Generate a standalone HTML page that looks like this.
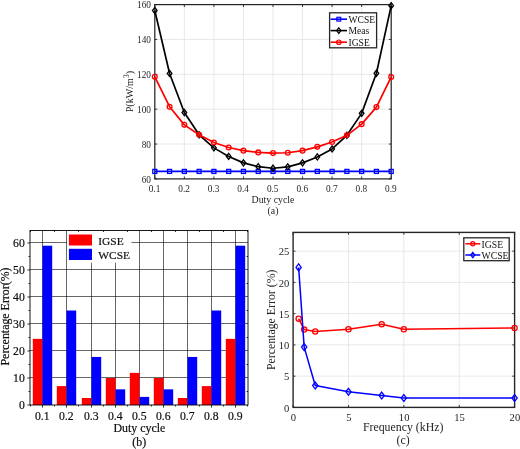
<!DOCTYPE html>
<html><head><meta charset="utf-8"><title>Figure</title>
<style>html,body{margin:0;padding:0;background:#fff;}svg{display:block}#b text{stroke:#000;stroke-width:.18px}</style></head>
<body>
<svg width="520" height="449" viewBox="0 0 520 449" font-family="Liberation Serif, Times New Roman, serif">
<rect width="520" height="449" fill="#fff"/>
<g id="a">
<line x1="184.35" y1="4.6" x2="184.35" y2="178.9" stroke="#e2e2e2" stroke-width="0.8"/>
<line x1="213.90" y1="4.6" x2="213.90" y2="178.9" stroke="#e2e2e2" stroke-width="0.8"/>
<line x1="243.45" y1="4.6" x2="243.45" y2="178.9" stroke="#e2e2e2" stroke-width="0.8"/>
<line x1="273.00" y1="4.6" x2="273.00" y2="178.9" stroke="#e2e2e2" stroke-width="0.8"/>
<line x1="302.55" y1="4.6" x2="302.55" y2="178.9" stroke="#e2e2e2" stroke-width="0.8"/>
<line x1="332.10" y1="4.6" x2="332.10" y2="178.9" stroke="#e2e2e2" stroke-width="0.8"/>
<line x1="361.65" y1="4.6" x2="361.65" y2="178.9" stroke="#e2e2e2" stroke-width="0.8"/>
<line x1="154.8" y1="144.04" x2="391.2" y2="144.04" stroke="#e2e2e2" stroke-width="0.8"/>
<line x1="154.8" y1="109.18" x2="391.2" y2="109.18" stroke="#e2e2e2" stroke-width="0.8"/>
<line x1="154.8" y1="74.32" x2="391.2" y2="74.32" stroke="#e2e2e2" stroke-width="0.8"/>
<line x1="154.8" y1="39.46" x2="391.2" y2="39.46" stroke="#e2e2e2" stroke-width="0.8"/>
<line x1="154.80" y1="178.9" x2="154.80" y2="176.5" stroke="#262626" stroke-width="0.9"/>
<line x1="154.80" y1="4.6" x2="154.80" y2="7.0" stroke="#262626" stroke-width="0.9"/>
<text x="154.50" y="192.0" font-size="9.3" text-anchor="middle" fill="#262626">0.1</text>
<line x1="184.35" y1="178.9" x2="184.35" y2="176.5" stroke="#262626" stroke-width="0.9"/>
<line x1="184.35" y1="4.6" x2="184.35" y2="7.0" stroke="#262626" stroke-width="0.9"/>
<text x="184.05" y="192.0" font-size="9.3" text-anchor="middle" fill="#262626">0.2</text>
<line x1="213.90" y1="178.9" x2="213.90" y2="176.5" stroke="#262626" stroke-width="0.9"/>
<line x1="213.90" y1="4.6" x2="213.90" y2="7.0" stroke="#262626" stroke-width="0.9"/>
<text x="213.60" y="192.0" font-size="9.3" text-anchor="middle" fill="#262626">0.3</text>
<line x1="243.45" y1="178.9" x2="243.45" y2="176.5" stroke="#262626" stroke-width="0.9"/>
<line x1="243.45" y1="4.6" x2="243.45" y2="7.0" stroke="#262626" stroke-width="0.9"/>
<text x="243.15" y="192.0" font-size="9.3" text-anchor="middle" fill="#262626">0.4</text>
<line x1="273.00" y1="178.9" x2="273.00" y2="176.5" stroke="#262626" stroke-width="0.9"/>
<line x1="273.00" y1="4.6" x2="273.00" y2="7.0" stroke="#262626" stroke-width="0.9"/>
<text x="272.70" y="192.0" font-size="9.3" text-anchor="middle" fill="#262626">0.5</text>
<line x1="302.55" y1="178.9" x2="302.55" y2="176.5" stroke="#262626" stroke-width="0.9"/>
<line x1="302.55" y1="4.6" x2="302.55" y2="7.0" stroke="#262626" stroke-width="0.9"/>
<text x="302.25" y="192.0" font-size="9.3" text-anchor="middle" fill="#262626">0.6</text>
<line x1="332.10" y1="178.9" x2="332.10" y2="176.5" stroke="#262626" stroke-width="0.9"/>
<line x1="332.10" y1="4.6" x2="332.10" y2="7.0" stroke="#262626" stroke-width="0.9"/>
<text x="331.80" y="192.0" font-size="9.3" text-anchor="middle" fill="#262626">0.7</text>
<line x1="361.65" y1="178.9" x2="361.65" y2="176.5" stroke="#262626" stroke-width="0.9"/>
<line x1="361.65" y1="4.6" x2="361.65" y2="7.0" stroke="#262626" stroke-width="0.9"/>
<text x="361.35" y="192.0" font-size="9.3" text-anchor="middle" fill="#262626">0.8</text>
<line x1="391.20" y1="178.9" x2="391.20" y2="176.5" stroke="#262626" stroke-width="0.9"/>
<line x1="391.20" y1="4.6" x2="391.20" y2="7.0" stroke="#262626" stroke-width="0.9"/>
<text x="390.90" y="192.0" font-size="9.3" text-anchor="middle" fill="#262626">0.9</text>
<line x1="154.8" y1="178.90" x2="157.20000000000002" y2="178.90" stroke="#262626" stroke-width="0.9"/>
<line x1="391.2" y1="178.90" x2="388.8" y2="178.90" stroke="#262626" stroke-width="0.9"/>
<text x="151.0" y="182.70" font-size="9.3" text-anchor="end" fill="#262626">60</text>
<line x1="154.8" y1="144.04" x2="157.20000000000002" y2="144.04" stroke="#262626" stroke-width="0.9"/>
<line x1="391.2" y1="144.04" x2="388.8" y2="144.04" stroke="#262626" stroke-width="0.9"/>
<text x="151.0" y="147.84" font-size="9.3" text-anchor="end" fill="#262626">80</text>
<line x1="154.8" y1="109.18" x2="157.20000000000002" y2="109.18" stroke="#262626" stroke-width="0.9"/>
<line x1="391.2" y1="109.18" x2="388.8" y2="109.18" stroke="#262626" stroke-width="0.9"/>
<text x="151.0" y="112.98" font-size="9.3" text-anchor="end" fill="#262626">100</text>
<line x1="154.8" y1="74.32" x2="157.20000000000002" y2="74.32" stroke="#262626" stroke-width="0.9"/>
<line x1="391.2" y1="74.32" x2="388.8" y2="74.32" stroke="#262626" stroke-width="0.9"/>
<text x="151.0" y="78.12" font-size="9.3" text-anchor="end" fill="#262626">120</text>
<line x1="154.8" y1="39.46" x2="157.20000000000002" y2="39.46" stroke="#262626" stroke-width="0.9"/>
<line x1="391.2" y1="39.46" x2="388.8" y2="39.46" stroke="#262626" stroke-width="0.9"/>
<text x="151.0" y="43.26" font-size="9.3" text-anchor="end" fill="#262626">140</text>
<line x1="154.8" y1="4.60" x2="157.20000000000002" y2="4.60" stroke="#262626" stroke-width="0.9"/>
<line x1="391.2" y1="4.60" x2="388.8" y2="4.60" stroke="#262626" stroke-width="0.9"/>
<text x="151.0" y="8.40" font-size="9.3" text-anchor="end" fill="#262626">160</text>
<rect x="154.8" y="4.6" width="236.40" height="174.30" fill="none" stroke="#262626" stroke-width="1.25"/>
<polyline points="154.80,171.41 169.58,171.41 184.35,171.41 199.12,171.41 213.90,171.41 228.68,171.41 243.45,171.41 258.23,171.41 273.00,171.41 287.77,171.41 302.55,171.41 317.32,171.41 332.10,171.41 346.88,171.41 361.65,171.41 376.42,171.41 391.20,171.41" fill="none" stroke="#0000ff" stroke-width="1.7" stroke-linejoin="round"/>
<rect x="152.80" y="169.41" width="4.0" height="4.0" fill="none" stroke="#0000ff" stroke-width="1.3"/>
<rect x="167.58" y="169.41" width="4.0" height="4.0" fill="none" stroke="#0000ff" stroke-width="1.3"/>
<rect x="182.35" y="169.41" width="4.0" height="4.0" fill="none" stroke="#0000ff" stroke-width="1.3"/>
<rect x="197.12" y="169.41" width="4.0" height="4.0" fill="none" stroke="#0000ff" stroke-width="1.3"/>
<rect x="211.90" y="169.41" width="4.0" height="4.0" fill="none" stroke="#0000ff" stroke-width="1.3"/>
<rect x="226.68" y="169.41" width="4.0" height="4.0" fill="none" stroke="#0000ff" stroke-width="1.3"/>
<rect x="241.45" y="169.41" width="4.0" height="4.0" fill="none" stroke="#0000ff" stroke-width="1.3"/>
<rect x="256.23" y="169.41" width="4.0" height="4.0" fill="none" stroke="#0000ff" stroke-width="1.3"/>
<rect x="271.00" y="169.41" width="4.0" height="4.0" fill="none" stroke="#0000ff" stroke-width="1.3"/>
<rect x="285.77" y="169.41" width="4.0" height="4.0" fill="none" stroke="#0000ff" stroke-width="1.3"/>
<rect x="300.55" y="169.41" width="4.0" height="4.0" fill="none" stroke="#0000ff" stroke-width="1.3"/>
<rect x="315.32" y="169.41" width="4.0" height="4.0" fill="none" stroke="#0000ff" stroke-width="1.3"/>
<rect x="330.10" y="169.41" width="4.0" height="4.0" fill="none" stroke="#0000ff" stroke-width="1.3"/>
<rect x="344.88" y="169.41" width="4.0" height="4.0" fill="none" stroke="#0000ff" stroke-width="1.3"/>
<rect x="359.65" y="169.41" width="4.0" height="4.0" fill="none" stroke="#0000ff" stroke-width="1.3"/>
<rect x="374.42" y="169.41" width="4.0" height="4.0" fill="none" stroke="#0000ff" stroke-width="1.3"/>
<rect x="389.20" y="169.41" width="4.0" height="4.0" fill="none" stroke="#0000ff" stroke-width="1.3"/>
<polyline points="154.80,10.53 169.58,73.45 184.35,112.49 199.12,134.80 213.90,147.87 228.68,156.42 243.45,162.86 258.23,166.70 273.00,168.27 287.77,166.87 302.55,162.86 317.32,156.94 332.10,148.92 346.88,135.32 361.65,113.36 376.42,73.27 391.20,5.65" fill="none" stroke="#000000" stroke-width="1.7" stroke-linejoin="round"/>
<path d="M154.80 7.45L157.14 10.53L154.80 13.61L152.46 10.53Z" fill="none" stroke="#000000" stroke-width="1.3"/>
<path d="M169.58 70.37L171.91 73.45L169.58 76.53L167.24 73.45Z" fill="none" stroke="#000000" stroke-width="1.3"/>
<path d="M184.35 109.41L186.69 112.49L184.35 115.57L182.01 112.49Z" fill="none" stroke="#000000" stroke-width="1.3"/>
<path d="M199.12 131.72L201.46 134.80L199.12 137.88L196.79 134.80Z" fill="none" stroke="#000000" stroke-width="1.3"/>
<path d="M213.90 144.79L216.24 147.87L213.90 150.95L211.56 147.87Z" fill="none" stroke="#000000" stroke-width="1.3"/>
<path d="M228.68 153.34L231.01 156.42L228.68 159.50L226.34 156.42Z" fill="none" stroke="#000000" stroke-width="1.3"/>
<path d="M243.45 159.78L245.79 162.86L243.45 165.94L241.11 162.86Z" fill="none" stroke="#000000" stroke-width="1.3"/>
<path d="M258.23 163.62L260.56 166.70L258.23 169.78L255.89 166.70Z" fill="none" stroke="#000000" stroke-width="1.3"/>
<path d="M273.00 165.19L275.34 168.27L273.00 171.35L270.66 168.27Z" fill="none" stroke="#000000" stroke-width="1.3"/>
<path d="M287.77 163.79L290.11 166.87L287.77 169.95L285.44 166.87Z" fill="none" stroke="#000000" stroke-width="1.3"/>
<path d="M302.55 159.78L304.89 162.86L302.55 165.94L300.21 162.86Z" fill="none" stroke="#000000" stroke-width="1.3"/>
<path d="M317.32 153.86L319.66 156.94L317.32 160.02L314.99 156.94Z" fill="none" stroke="#000000" stroke-width="1.3"/>
<path d="M332.10 145.84L334.44 148.92L332.10 152.00L329.76 148.92Z" fill="none" stroke="#000000" stroke-width="1.3"/>
<path d="M346.88 132.24L349.21 135.32L346.88 138.41L344.54 135.32Z" fill="none" stroke="#000000" stroke-width="1.3"/>
<path d="M361.65 110.28L363.99 113.36L361.65 116.44L359.31 113.36Z" fill="none" stroke="#000000" stroke-width="1.3"/>
<path d="M376.42 70.19L378.76 73.27L376.42 76.35L374.09 73.27Z" fill="none" stroke="#000000" stroke-width="1.3"/>
<path d="M391.20 2.57L393.54 5.65L391.20 8.73L388.86 5.65Z" fill="none" stroke="#000000" stroke-width="1.3"/>
<polyline points="154.80,76.76 169.58,106.74 184.35,124.87 199.12,134.80 213.90,142.47 228.68,147.53 243.45,150.66 258.23,152.41 273.00,153.10 287.77,152.75 302.55,150.66 317.32,146.83 332.10,141.95 346.88,135.32 361.65,124.17 376.42,107.09 391.20,76.93" fill="none" stroke="#ff0000" stroke-width="1.7" stroke-linejoin="round"/>
<circle cx="154.80" cy="76.76" r="2.4" fill="none" stroke="#ff0000" stroke-width="1.3"/>
<circle cx="169.58" cy="106.74" r="2.4" fill="none" stroke="#ff0000" stroke-width="1.3"/>
<circle cx="184.35" cy="124.87" r="2.4" fill="none" stroke="#ff0000" stroke-width="1.3"/>
<circle cx="199.12" cy="134.80" r="2.4" fill="none" stroke="#ff0000" stroke-width="1.3"/>
<circle cx="213.90" cy="142.47" r="2.4" fill="none" stroke="#ff0000" stroke-width="1.3"/>
<circle cx="228.68" cy="147.53" r="2.4" fill="none" stroke="#ff0000" stroke-width="1.3"/>
<circle cx="243.45" cy="150.66" r="2.4" fill="none" stroke="#ff0000" stroke-width="1.3"/>
<circle cx="258.23" cy="152.41" r="2.4" fill="none" stroke="#ff0000" stroke-width="1.3"/>
<circle cx="273.00" cy="153.10" r="2.4" fill="none" stroke="#ff0000" stroke-width="1.3"/>
<circle cx="287.77" cy="152.75" r="2.4" fill="none" stroke="#ff0000" stroke-width="1.3"/>
<circle cx="302.55" cy="150.66" r="2.4" fill="none" stroke="#ff0000" stroke-width="1.3"/>
<circle cx="317.32" cy="146.83" r="2.4" fill="none" stroke="#ff0000" stroke-width="1.3"/>
<circle cx="332.10" cy="141.95" r="2.4" fill="none" stroke="#ff0000" stroke-width="1.3"/>
<circle cx="346.88" cy="135.32" r="2.4" fill="none" stroke="#ff0000" stroke-width="1.3"/>
<circle cx="361.65" cy="124.17" r="2.4" fill="none" stroke="#ff0000" stroke-width="1.3"/>
<circle cx="376.42" cy="107.09" r="2.4" fill="none" stroke="#ff0000" stroke-width="1.3"/>
<circle cx="391.20" cy="76.93" r="2.4" fill="none" stroke="#ff0000" stroke-width="1.3"/>
<rect x="329.6" y="12.8" width="47" height="35" fill="#fff" stroke="#262626" stroke-width="1.3"/>
<line x1="330.6" y1="19.2" x2="347" y2="19.2" stroke="#0000ff" stroke-width="1.6"/>
<rect x="336.90" y="17.30" width="3.8" height="3.8" fill="none" stroke="#0000ff" stroke-width="1.2"/>
<text x="348.6" y="23.00" font-size="9.5" fill="#111">WCSE</text>
<line x1="330.6" y1="30.6" x2="347" y2="30.6" stroke="#000" stroke-width="1.6"/>
<path d="M338.80 27.80L340.93 30.60L338.80 33.40L336.68 30.60Z" fill="none" stroke="#000" stroke-width="1.2"/>
<text x="348.6" y="34.40" font-size="9.5" fill="#111">Meas</text>
<line x1="330.6" y1="42.2" x2="347" y2="42.2" stroke="#ff0000" stroke-width="1.6"/>
<circle cx="338.80" cy="42.20" r="2.2" fill="none" stroke="#ff0000" stroke-width="1.2"/>
<text x="348.6" y="46.00" font-size="9.5" fill="#111">IGSE</text>
<text x="273" y="202.7" font-size="9.85" text-anchor="middle" fill="#262626">Duty cycle</text>
<text x="273" y="213.5" font-size="9.85" text-anchor="middle" fill="#262626">(a)</text>
<text transform="translate(133.0,91.6) rotate(-90)" font-size="10.1" text-anchor="middle" fill="#262626">P(kW/m<tspan dy="-3.8" font-size="7.6">3</tspan><tspan dy="3.8" font-size="10.1">)</tspan></text>
</g>
<g id="b" stroke-linecap="butt">
<line x1="42.50" y1="230.5" x2="42.50" y2="405.0" stroke="#000" stroke-width="0.6"/>
<line x1="66.50" y1="230.5" x2="66.50" y2="405.0" stroke="#000" stroke-width="0.6"/>
<line x1="91.50" y1="230.5" x2="91.50" y2="405.0" stroke="#000" stroke-width="0.6"/>
<line x1="115.50" y1="230.5" x2="115.50" y2="405.0" stroke="#000" stroke-width="0.6"/>
<line x1="139.50" y1="230.5" x2="139.50" y2="405.0" stroke="#000" stroke-width="0.6"/>
<line x1="163.50" y1="230.5" x2="163.50" y2="405.0" stroke="#000" stroke-width="0.6"/>
<line x1="187.50" y1="230.5" x2="187.50" y2="405.0" stroke="#000" stroke-width="0.6"/>
<line x1="211.50" y1="230.5" x2="211.50" y2="405.0" stroke="#000" stroke-width="0.6"/>
<line x1="235.50" y1="230.5" x2="235.50" y2="405.0" stroke="#000" stroke-width="0.6"/>
<line x1="30.0" y1="377.50" x2="248.0" y2="377.50" stroke="#000" stroke-width="0.6"/>
<line x1="30.0" y1="350.50" x2="248.0" y2="350.50" stroke="#000" stroke-width="0.6"/>
<line x1="30.0" y1="323.50" x2="248.0" y2="323.50" stroke="#000" stroke-width="0.6"/>
<line x1="30.0" y1="296.50" x2="248.0" y2="296.50" stroke="#000" stroke-width="0.6"/>
<line x1="30.0" y1="269.50" x2="248.0" y2="269.50" stroke="#000" stroke-width="0.6"/>
<line x1="30.0" y1="242.50" x2="248.0" y2="242.50" stroke="#000" stroke-width="0.6"/>
<rect x="32.80" y="338.85" width="9.7" height="66.15" fill="#ff0000"/>
<rect x="42.50" y="245.70" width="9.7" height="159.30" fill="#0000ff"/>
<rect x="56.80" y="386.10" width="9.7" height="18.90" fill="#ff0000"/>
<rect x="66.50" y="310.50" width="9.7" height="94.50" fill="#0000ff"/>
<rect x="81.80" y="397.98" width="9.7" height="7.02" fill="#ff0000"/>
<rect x="91.50" y="356.94" width="9.7" height="48.06" fill="#0000ff"/>
<rect x="105.80" y="378.00" width="9.7" height="27.00" fill="#ff0000"/>
<rect x="115.50" y="389.34" width="9.7" height="15.66" fill="#0000ff"/>
<rect x="129.80" y="372.87" width="9.7" height="32.13" fill="#ff0000"/>
<rect x="139.50" y="396.90" width="9.7" height="8.10" fill="#0000ff"/>
<rect x="153.80" y="378.00" width="9.7" height="27.00" fill="#ff0000"/>
<rect x="163.50" y="389.34" width="9.7" height="15.66" fill="#0000ff"/>
<rect x="177.80" y="397.98" width="9.7" height="7.02" fill="#ff0000"/>
<rect x="187.50" y="356.94" width="9.7" height="48.06" fill="#0000ff"/>
<rect x="201.80" y="386.10" width="9.7" height="18.90" fill="#ff0000"/>
<rect x="211.50" y="310.50" width="9.7" height="94.50" fill="#0000ff"/>
<rect x="225.80" y="338.85" width="9.7" height="66.15" fill="#ff0000"/>
<rect x="235.50" y="245.70" width="9.7" height="159.30" fill="#0000ff"/>
<rect x="67" y="231" width="64.5" height="31.7" fill="#fff"/>
<rect x="68.9" y="234.5" width="23.1" height="11" fill="#ff0000"/>
<rect x="68.9" y="248.8" width="23.1" height="11.2" fill="#0000ff"/>
<text x="98.3" y="244.6" font-size="11.4" fill="#111">IGSE</text>
<text x="98.3" y="258.6" font-size="11.4" fill="#111">WCSE</text>
<rect x="30.0" y="230.5" width="218.00" height="174.50" fill="none" stroke="#000" stroke-width="0.9"/>
<line x1="42.50" y1="405.0" x2="42.50" y2="407.6" stroke="#000" stroke-width="0.8"/>
<text x="42.20" y="420.1" font-size="11.7" text-anchor="middle" fill="#111">0.1</text>
<line x1="66.50" y1="405.0" x2="66.50" y2="407.6" stroke="#000" stroke-width="0.8"/>
<text x="66.20" y="420.1" font-size="11.7" text-anchor="middle" fill="#111">0.2</text>
<line x1="91.50" y1="405.0" x2="91.50" y2="407.6" stroke="#000" stroke-width="0.8"/>
<text x="91.20" y="420.1" font-size="11.7" text-anchor="middle" fill="#111">0.3</text>
<line x1="115.50" y1="405.0" x2="115.50" y2="407.6" stroke="#000" stroke-width="0.8"/>
<text x="115.20" y="420.1" font-size="11.7" text-anchor="middle" fill="#111">0.4</text>
<line x1="139.50" y1="405.0" x2="139.50" y2="407.6" stroke="#000" stroke-width="0.8"/>
<text x="139.20" y="420.1" font-size="11.7" text-anchor="middle" fill="#111">0.5</text>
<line x1="163.50" y1="405.0" x2="163.50" y2="407.6" stroke="#000" stroke-width="0.8"/>
<text x="163.20" y="420.1" font-size="11.7" text-anchor="middle" fill="#111">0.6</text>
<line x1="187.50" y1="405.0" x2="187.50" y2="407.6" stroke="#000" stroke-width="0.8"/>
<text x="187.20" y="420.1" font-size="11.7" text-anchor="middle" fill="#111">0.7</text>
<line x1="211.50" y1="405.0" x2="211.50" y2="407.6" stroke="#000" stroke-width="0.8"/>
<text x="211.20" y="420.1" font-size="11.7" text-anchor="middle" fill="#111">0.8</text>
<line x1="235.50" y1="405.0" x2="235.50" y2="407.6" stroke="#000" stroke-width="0.8"/>
<text x="235.20" y="420.1" font-size="11.7" text-anchor="middle" fill="#111">0.9</text>
<line x1="30.50" y1="405.0" x2="30.50" y2="406.5" stroke="#000" stroke-width="0.8"/>
<line x1="30.50" y1="230.5" x2="30.50" y2="232.0" stroke="#000" stroke-width="0.8"/>
<line x1="54.50" y1="405.0" x2="54.50" y2="406.5" stroke="#000" stroke-width="0.8"/>
<line x1="54.50" y1="230.5" x2="54.50" y2="232.0" stroke="#000" stroke-width="0.8"/>
<line x1="78.50" y1="405.0" x2="78.50" y2="406.5" stroke="#000" stroke-width="0.8"/>
<line x1="78.50" y1="230.5" x2="78.50" y2="232.0" stroke="#000" stroke-width="0.8"/>
<line x1="103.50" y1="405.0" x2="103.50" y2="406.5" stroke="#000" stroke-width="0.8"/>
<line x1="103.50" y1="230.5" x2="103.50" y2="232.0" stroke="#000" stroke-width="0.8"/>
<line x1="127.50" y1="405.0" x2="127.50" y2="406.5" stroke="#000" stroke-width="0.8"/>
<line x1="127.50" y1="230.5" x2="127.50" y2="232.0" stroke="#000" stroke-width="0.8"/>
<line x1="151.50" y1="405.0" x2="151.50" y2="406.5" stroke="#000" stroke-width="0.8"/>
<line x1="151.50" y1="230.5" x2="151.50" y2="232.0" stroke="#000" stroke-width="0.8"/>
<line x1="175.50" y1="405.0" x2="175.50" y2="406.5" stroke="#000" stroke-width="0.8"/>
<line x1="175.50" y1="230.5" x2="175.50" y2="232.0" stroke="#000" stroke-width="0.8"/>
<line x1="199.50" y1="405.0" x2="199.50" y2="406.5" stroke="#000" stroke-width="0.8"/>
<line x1="199.50" y1="230.5" x2="199.50" y2="232.0" stroke="#000" stroke-width="0.8"/>
<line x1="223.50" y1="405.0" x2="223.50" y2="406.5" stroke="#000" stroke-width="0.8"/>
<line x1="223.50" y1="230.5" x2="223.50" y2="232.0" stroke="#000" stroke-width="0.8"/>
<line x1="247.50" y1="405.0" x2="247.50" y2="406.5" stroke="#000" stroke-width="0.8"/>
<line x1="247.50" y1="230.5" x2="247.50" y2="232.0" stroke="#000" stroke-width="0.8"/>
<line x1="30.0" y1="405.00" x2="27.4" y2="405.00" stroke="#000" stroke-width="0.8"/>
<text x="24.8" y="409.10" font-size="11.7" text-anchor="end" fill="#111">0</text>
<line x1="30.0" y1="378.00" x2="27.4" y2="378.00" stroke="#000" stroke-width="0.8"/>
<text x="24.8" y="382.10" font-size="11.7" text-anchor="end" fill="#111">10</text>
<line x1="30.0" y1="351.00" x2="27.4" y2="351.00" stroke="#000" stroke-width="0.8"/>
<text x="24.8" y="355.10" font-size="11.7" text-anchor="end" fill="#111">20</text>
<line x1="30.0" y1="324.00" x2="27.4" y2="324.00" stroke="#000" stroke-width="0.8"/>
<text x="24.8" y="328.10" font-size="11.7" text-anchor="end" fill="#111">30</text>
<line x1="30.0" y1="297.00" x2="27.4" y2="297.00" stroke="#000" stroke-width="0.8"/>
<text x="24.8" y="301.10" font-size="11.7" text-anchor="end" fill="#111">40</text>
<line x1="30.0" y1="270.00" x2="27.4" y2="270.00" stroke="#000" stroke-width="0.8"/>
<text x="24.8" y="274.10" font-size="11.7" text-anchor="end" fill="#111">50</text>
<line x1="30.0" y1="243.00" x2="27.4" y2="243.00" stroke="#000" stroke-width="0.8"/>
<text x="24.8" y="247.10" font-size="11.7" text-anchor="end" fill="#111">60</text>
<line x1="30.0" y1="391.50" x2="28.5" y2="391.50" stroke="#000" stroke-width="0.8"/>
<line x1="248.0" y1="391.50" x2="246.5" y2="391.50" stroke="#000" stroke-width="0.8"/>
<line x1="30.0" y1="364.50" x2="28.5" y2="364.50" stroke="#000" stroke-width="0.8"/>
<line x1="248.0" y1="364.50" x2="246.5" y2="364.50" stroke="#000" stroke-width="0.8"/>
<line x1="30.0" y1="337.50" x2="28.5" y2="337.50" stroke="#000" stroke-width="0.8"/>
<line x1="248.0" y1="337.50" x2="246.5" y2="337.50" stroke="#000" stroke-width="0.8"/>
<line x1="30.0" y1="310.50" x2="28.5" y2="310.50" stroke="#000" stroke-width="0.8"/>
<line x1="248.0" y1="310.50" x2="246.5" y2="310.50" stroke="#000" stroke-width="0.8"/>
<line x1="30.0" y1="283.50" x2="28.5" y2="283.50" stroke="#000" stroke-width="0.8"/>
<line x1="248.0" y1="283.50" x2="246.5" y2="283.50" stroke="#000" stroke-width="0.8"/>
<line x1="30.0" y1="256.50" x2="28.5" y2="256.50" stroke="#000" stroke-width="0.8"/>
<line x1="248.0" y1="256.50" x2="246.5" y2="256.50" stroke="#000" stroke-width="0.8"/>
<text x="139.4" y="431.5" font-size="11.9" text-anchor="middle" fill="#111">Duty cycle</text>
<text x="139.3" y="445.6" font-size="11.9" text-anchor="middle" fill="#111">(b)</text>
<text transform="translate(8.7,316.5) rotate(-90)" font-size="11.9" text-anchor="middle" fill="#111">Percentage Error(%)</text>
</g>
<g id="c">
<line x1="348.48" y1="232.4" x2="348.48" y2="407.4" stroke="#e2e2e2" stroke-width="0.8"/>
<line x1="403.85" y1="232.4" x2="403.85" y2="407.4" stroke="#e2e2e2" stroke-width="0.8"/>
<line x1="459.23" y1="232.4" x2="459.23" y2="407.4" stroke="#e2e2e2" stroke-width="0.8"/>
<line x1="293.1" y1="376.15" x2="514.6" y2="376.15" stroke="#e2e2e2" stroke-width="0.8"/>
<line x1="293.1" y1="344.90" x2="514.6" y2="344.90" stroke="#e2e2e2" stroke-width="0.8"/>
<line x1="293.1" y1="313.65" x2="514.6" y2="313.65" stroke="#e2e2e2" stroke-width="0.8"/>
<line x1="293.1" y1="282.40" x2="514.6" y2="282.40" stroke="#e2e2e2" stroke-width="0.8"/>
<line x1="293.1" y1="251.15" x2="514.6" y2="251.15" stroke="#e2e2e2" stroke-width="0.8"/>
<line x1="293.10" y1="407.4" x2="293.10" y2="405.0" stroke="#262626" stroke-width="0.9"/>
<line x1="293.10" y1="232.4" x2="293.10" y2="234.8" stroke="#262626" stroke-width="0.9"/>
<text x="293.40" y="420.8" font-size="10.6" text-anchor="middle" fill="#262626">0</text>
<line x1="348.48" y1="407.4" x2="348.48" y2="405.0" stroke="#262626" stroke-width="0.9"/>
<line x1="348.48" y1="232.4" x2="348.48" y2="234.8" stroke="#262626" stroke-width="0.9"/>
<text x="348.78" y="420.8" font-size="10.6" text-anchor="middle" fill="#262626">5</text>
<line x1="403.85" y1="407.4" x2="403.85" y2="405.0" stroke="#262626" stroke-width="0.9"/>
<line x1="403.85" y1="232.4" x2="403.85" y2="234.8" stroke="#262626" stroke-width="0.9"/>
<text x="404.15" y="420.8" font-size="10.6" text-anchor="middle" fill="#262626">10</text>
<line x1="459.23" y1="407.4" x2="459.23" y2="405.0" stroke="#262626" stroke-width="0.9"/>
<line x1="459.23" y1="232.4" x2="459.23" y2="234.8" stroke="#262626" stroke-width="0.9"/>
<text x="459.53" y="420.8" font-size="10.6" text-anchor="middle" fill="#262626">15</text>
<line x1="514.60" y1="407.4" x2="514.60" y2="405.0" stroke="#262626" stroke-width="0.9"/>
<line x1="514.60" y1="232.4" x2="514.60" y2="234.8" stroke="#262626" stroke-width="0.9"/>
<text x="514.90" y="420.8" font-size="10.6" text-anchor="middle" fill="#262626">20</text>
<line x1="293.1" y1="407.40" x2="295.5" y2="407.40" stroke="#262626" stroke-width="0.9"/>
<line x1="514.6" y1="407.40" x2="512.2" y2="407.40" stroke="#262626" stroke-width="0.9"/>
<text x="289.3" y="411.50" font-size="10.6" text-anchor="end" fill="#262626">0</text>
<line x1="293.1" y1="376.15" x2="295.5" y2="376.15" stroke="#262626" stroke-width="0.9"/>
<line x1="514.6" y1="376.15" x2="512.2" y2="376.15" stroke="#262626" stroke-width="0.9"/>
<text x="289.3" y="380.25" font-size="10.6" text-anchor="end" fill="#262626">5</text>
<line x1="293.1" y1="344.90" x2="295.5" y2="344.90" stroke="#262626" stroke-width="0.9"/>
<line x1="514.6" y1="344.90" x2="512.2" y2="344.90" stroke="#262626" stroke-width="0.9"/>
<text x="289.3" y="349.00" font-size="10.6" text-anchor="end" fill="#262626">10</text>
<line x1="293.1" y1="313.65" x2="295.5" y2="313.65" stroke="#262626" stroke-width="0.9"/>
<line x1="514.6" y1="313.65" x2="512.2" y2="313.65" stroke="#262626" stroke-width="0.9"/>
<text x="289.3" y="317.75" font-size="10.6" text-anchor="end" fill="#262626">15</text>
<line x1="293.1" y1="282.40" x2="295.5" y2="282.40" stroke="#262626" stroke-width="0.9"/>
<line x1="514.6" y1="282.40" x2="512.2" y2="282.40" stroke="#262626" stroke-width="0.9"/>
<text x="289.3" y="286.50" font-size="10.6" text-anchor="end" fill="#262626">20</text>
<line x1="293.1" y1="251.15" x2="295.5" y2="251.15" stroke="#262626" stroke-width="0.9"/>
<line x1="514.6" y1="251.15" x2="512.2" y2="251.15" stroke="#262626" stroke-width="0.9"/>
<text x="289.3" y="255.25" font-size="10.6" text-anchor="end" fill="#262626">25</text>
<rect x="293.1" y="232.4" width="221.50" height="175.00" fill="none" stroke="#262626" stroke-width="1.4"/>
<polyline points="298.64,318.65 304.18,329.59 315.25,331.46 348.48,329.27 381.70,324.27 403.85,329.27 514.60,328.02" fill="none" stroke="#ff0000" stroke-width="1.5" stroke-linejoin="round"/>
<circle cx="298.64" cy="318.65" r="2.6" fill="none" stroke="#ff0000" stroke-width="1.3"/>
<circle cx="304.18" cy="329.59" r="2.6" fill="none" stroke="#ff0000" stroke-width="1.3"/>
<circle cx="315.25" cy="331.46" r="2.6" fill="none" stroke="#ff0000" stroke-width="1.3"/>
<circle cx="348.48" cy="329.27" r="2.6" fill="none" stroke="#ff0000" stroke-width="1.3"/>
<circle cx="381.70" cy="324.27" r="2.6" fill="none" stroke="#ff0000" stroke-width="1.3"/>
<circle cx="403.85" cy="329.27" r="2.6" fill="none" stroke="#ff0000" stroke-width="1.3"/>
<circle cx="514.60" cy="328.02" r="2.6" fill="none" stroke="#ff0000" stroke-width="1.3"/>
<polyline points="298.64,267.40 304.18,347.09 315.25,385.52 348.48,391.77 381.70,395.52 403.85,398.02 514.60,398.02" fill="none" stroke="#0000ff" stroke-width="1.5" stroke-linejoin="round"/>
<path d="M298.64 263.93L301.27 267.40L298.64 270.87L296.00 267.40Z" fill="none" stroke="#0000ff" stroke-width="1.3"/>
<path d="M304.18 343.62L306.81 347.09L304.18 350.56L301.54 347.09Z" fill="none" stroke="#0000ff" stroke-width="1.3"/>
<path d="M315.25 382.05L317.88 385.52L315.25 389.00L312.62 385.52Z" fill="none" stroke="#0000ff" stroke-width="1.3"/>
<path d="M348.48 388.30L351.11 391.77L348.48 395.25L345.84 391.77Z" fill="none" stroke="#0000ff" stroke-width="1.3"/>
<path d="M381.70 392.05L384.34 395.52L381.70 399.00L379.07 395.52Z" fill="none" stroke="#0000ff" stroke-width="1.3"/>
<path d="M403.85 394.55L406.49 398.02L403.85 401.50L401.22 398.02Z" fill="none" stroke="#0000ff" stroke-width="1.3"/>
<path d="M514.60 394.55L517.24 398.02L514.60 401.50L511.97 398.02Z" fill="none" stroke="#0000ff" stroke-width="1.3"/>
<rect x="463.8" y="237.8" width="45.4" height="22.9" fill="#fff" stroke="#262626" stroke-width="1.3"/>
<line x1="465.4" y1="243.8" x2="480.3" y2="243.8" stroke="#ff0000" stroke-width="1.5"/>
<circle cx="472.80" cy="243.80" r="2.1" fill="none" stroke="#ff0000" stroke-width="1.2"/>
<text x="481.6" y="247.60" font-size="9.7" fill="#111">IGSE</text>
<line x1="465.4" y1="255.0" x2="480.3" y2="255.0" stroke="#0000ff" stroke-width="1.5"/>
<path d="M472.80 252.31L474.84 255.00L472.80 257.69L470.76 255.00Z" fill="none" stroke="#0000ff" stroke-width="1.2"/>
<text x="481.6" y="258.80" font-size="9.7" fill="#111">WCSE</text>
<text x="403.2" y="430.7" font-size="11.85" text-anchor="middle" fill="#262626">Frequency (kHz)</text>
<text x="403.2" y="443.8" font-size="11.85" text-anchor="middle" fill="#262626">(c)</text>
<text transform="translate(275.2,319.8) rotate(-90)" font-size="11.85" text-anchor="middle" fill="#262626">Percentage Error (%)</text>
</g>
</svg>
</body></html>
